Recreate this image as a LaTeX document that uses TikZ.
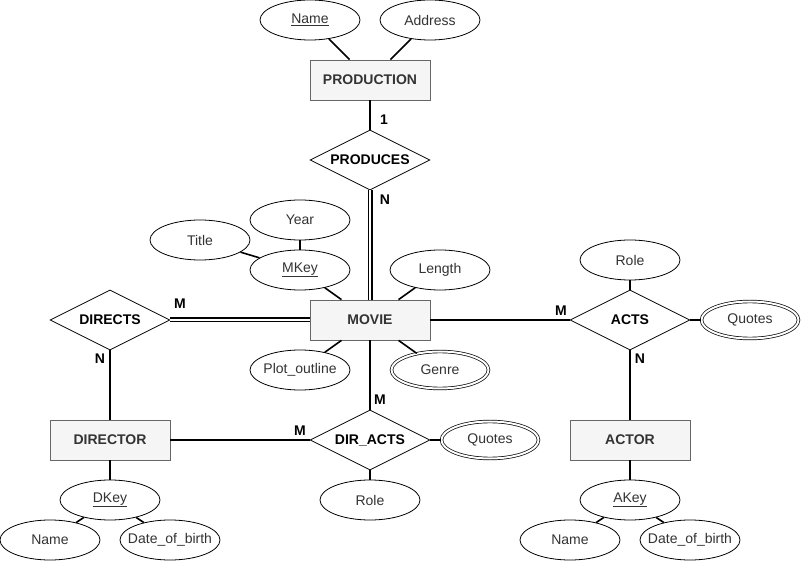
\documentclass[tikz,border=0pt]{standalone}
\usepackage{fontspec}
\setmainfont{Liberation Sans}
\usetikzlibrary{shapes.geometric}
\definecolor{entfill}{HTML}{F5F5F5}
\definecolor{entdraw}{HTML}{666666}
\definecolor{enttext}{HTML}{333333}
\begin{document}
\begin{tikzpicture}[x=1pt,y=-1pt,
  every node/.style={font=\fontsize{14}{16}\selectfont},
  entity/.style={rectangle,draw=entdraw,fill=entfill,line width=0.8pt,minimum width=120pt,minimum height=40pt,inner sep=0pt,font=\fontsize{14}{16}\selectfont\bfseries,text=enttext},
  rel/.style={diamond,draw,fill=white,line width=0.8pt,minimum width=120pt,minimum height=60pt,aspect=2,inner sep=0pt,font=\fontsize{14}{16}\selectfont\bfseries},
  attr/.style={ellipse,draw,fill=white,line width=0.8pt,minimum width=100pt,minimum height=40pt,inner ysep=0pt,inner xsep=-9pt,text=enttext},
  mattr/.style={attr,double,double distance=2pt,line width=0.7pt,minimum width=97pt,minimum height=37pt},
  conn/.style={line width=1.6pt},
  dconn/.style={line width=1.3pt,double,double distance=2.4pt},
  card/.style={font=\fontsize{14}{16}\selectfont\bfseries,inner sep=0pt}
]
\useasboundingbox (0,0) rectangle (801,561);
% entities
\node[entity] (prod) at (370,80) {PRODUCTION};
\node[entity] (movie) at (370,320) {MOVIE};
\node[entity] (director) at (110,440) {DIRECTOR};
\node[entity] (actor) at (630,440) {ACTOR};
% relationships
\node[rel] (produces) at (370,160) {PRODUCES};
\node[rel] (directs) at (110,320) {DIRECTS};
\node[rel] (acts) at (630,320) {ACTS};
\node[rel] (diracts) at (370,440) {DIR\_ACTS};
% attributes
\node[attr] (pname) at (310,20) {\underline{Name}};
\node[attr] (paddr) at (430,20) {Address};
\node[attr] (year) at (300,220) {Year};
\node[attr] (title) at (200,240) {Title};
\node[attr] (mkey) at (300,270) {\underline{MKey}};
\node[attr] (length) at (440,270) {Length};
\node[attr] (plot) at (300,370) {Plot\_outline};
\node[mattr] (genre) at (440,370) {Genre};
\node[attr] (arole) at (630,260) {Role};
\node[mattr] (aquotes) at (750,320) {Quotes};
\node[mattr] (dquotes) at (490,440) {Quotes};
\node[attr] (drole) at (370,500) {Role};
\node[attr] (dkey) at (110,500) {\underline{DKey}};
\node[attr] (dname) at (50,540) {Name};
\node[attr] (ddob) at (170,540) {Date\_of\_birth};
\node[attr] (akey) at (630,500) {\underline{AKey}};
\node[attr] (aname) at (570,540) {Name};
\node[attr] (adob) at (690,540) {Date\_of\_birth};
% attribute connectors
\draw[conn] (pname) -- (prod);
\draw[conn] (paddr) -- (prod);
\draw[conn] (year) -- (mkey);
\draw[conn] (title) -- (mkey);
\draw[conn] (mkey) -- (movie);
\draw[conn] (length) -- (movie);
\draw[conn] (plot) -- (movie);
\draw[conn] (genre) -- (movie);
\draw[conn] (arole) -- (acts);
\draw[conn] (aquotes) -- (acts);
\draw[conn] (dquotes) -- (diracts);
\draw[conn] (drole) -- (diracts);
\draw[conn] (dkey) -- (director);
\draw[conn] (dname) -- (dkey);
\draw[conn] (ddob) -- (dkey);
\draw[conn] (akey) -- (actor);
\draw[conn] (aname) -- (akey);
\draw[conn] (adob) -- (akey);
% relationship connectors
\draw[conn] (prod) -- (produces);
\draw[dconn] (produces) -- (movie);
\draw[dconn] (directs) -- (movie);
\draw[conn] (directs) -- (director);
\draw[conn] (movie) -- (acts);
\draw[conn] (acts) -- (actor);
\draw[conn] (movie) -- (diracts);
\draw[conn] (director) -- (diracts);
% cardinalities
\node[card] (c1) at (384,120) {1};
\node[card] (c2) at (385,200) {N};
\node[card] (c3) at (180,304) {M};
\node[card] (c4) at (100,359) {N};
\node[card] (c5) at (561,311) {M};
\node[card] (c6) at (640,359) {N};
\node[card] (c7) at (380,400) {M};
\node[card] (c8) at (300,431) {M};
\end{tikzpicture}
\end{document}
